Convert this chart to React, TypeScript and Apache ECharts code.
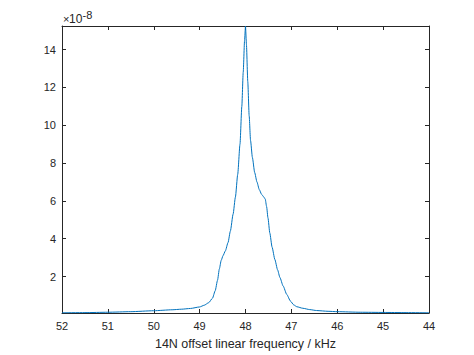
import React, { useEffect, useRef } from "react";
import * as echarts from "echarts";

// frequency (kHz) and intensity (×1e-8)
const freqs = [
  52, 51.5, 51, 50.5, 50, 49.6, 49.4, 49.2, 49.0, 48.9, 48.8, 48.72, 48.66, 48.61, 48.57,
  48.53, 48.49, 48.44, 48.38, 48.33, 48.27, 48.22, 48.17, 48.12, 48.08, 48.05, 48.02, 48.0,
  47.98, 47.95, 47.92, 47.89, 47.85, 47.8, 47.75, 47.7, 47.65, 47.6, 47.57, 47.54, 47.51,
  47.47, 47.42, 47.36, 47.3, 47.25, 47.18, 47.1, 47.02, 46.95, 46.88, 46.75, 46.6, 46.45,
  46.2, 46.0, 45.5, 45.0, 44.5, 44.0,
];
const values = [
  0.08, 0.09, 0.11, 0.14, 0.19, 0.24, 0.27, 0.31, 0.39, 0.48, 0.62, 0.85, 1.25, 1.8, 2.4,
  2.85, 3.1, 3.35, 3.8, 4.4, 5.3, 6.2, 7.4, 9.0, 11.0, 12.8, 14.5, 15.25,
  14.3, 12.3, 10.5, 9.2, 8.3, 7.5, 7.0, 6.6, 6.35, 6.2, 6.1, 5.7, 5.1,
  4.3, 3.55, 2.9, 2.35, 1.95, 1.5, 1.05, 0.7, 0.5, 0.4, 0.32, 0.25, 0.2,
  0.16, 0.14, 0.11, 0.1, 0.09, 0.08,
];
const yTicks = [2, 4, 6, 8, 10, 12, 14];
const xLabel = "14N offset linear frequency / kHz";

const AX = "#262626";
const FONT = "Liberation Sans, Arial, Helvetica, sans-serif";

export default function App() {
  const ref = useRef<HTMLDivElement>(null);
  useEffect(() => {
    const chart = echarts.init(ref.current!, undefined, { renderer: "svg" });
    const xCommon = {
      type: "value" as const,
      min: 44,
      max: 52,
      interval: 1,
      inverse: true,
      axisLine: { show: true, lineStyle: { color: AX, width: 1 } },
      axisTick: { show: true, inside: true, length: 4, lineStyle: { color: AX } },
      splitLine: { show: false },
    };
    const yCommon = {
      type: "value" as const,
      min: 0.07,
      max: 15.25,
      axisLine: { show: true, lineStyle: { color: AX, width: 1 } },
      axisTick: { show: true, inside: true, length: 4, customValues: yTicks, lineStyle: { color: AX } },
      splitLine: { show: false },
    };
    chart.setOption({
      animation: false,
      backgroundColor: "#ffffff",
      grid: { left: 62, right: 45, top: 26, bottom: 40, containLabel: false },
      xAxis: [
        {
          ...xCommon,
          position: "bottom",
          axisLabel: { show: true, color: AX, fontSize: 11, fontFamily: FONT, margin: 7 },
          name: xLabel,
          nameLocation: "middle",
          nameGap: 24,
          nameTextStyle: { color: AX, fontSize: 12.5, fontFamily: FONT },
        },
        { ...xCommon, position: "top", axisLabel: { show: false } },
      ],
      yAxis: [
        {
          ...yCommon,
          position: "left",
          axisLabel: { show: true, color: AX, fontSize: 11, fontFamily: FONT, margin: 6, customValues: yTicks },
        },
        { ...yCommon, position: "right", axisLabel: { show: false } },
      ],
      graphic: [
        { type: "text", left: 63, top: 13, style: { text: "×", fontSize: 11, fill: AX, fontFamily: FONT } },
        { type: "text", left: 69, top: 12.5, style: { text: "10", fontSize: 12, fill: AX, fontFamily: FONT } },
        { type: "text", left: 82.5, top: 9, style: { text: "-8", fontSize: 11, fill: AX, fontFamily: FONT } },
      ],
      series: [
        {
          type: "line",
          data: freqs.map((f, i) => [f, values[i]]),
          showSymbol: false,
          smooth: 0.2,
          smoothMonotone: "x",
          lineStyle: { color: "#0072BD", width: 1 },
          itemStyle: { color: "#0072BD" },
          xAxisIndex: 0,
          yAxisIndex: 0,
        },
      ],
    });
    return () => chart.dispose();
  }, []);
  return (
    <div
      ref={ref}
      style={{ position: "absolute", left: 0, top: 0, width: 474, height: 355 }}
    />
  );
}
